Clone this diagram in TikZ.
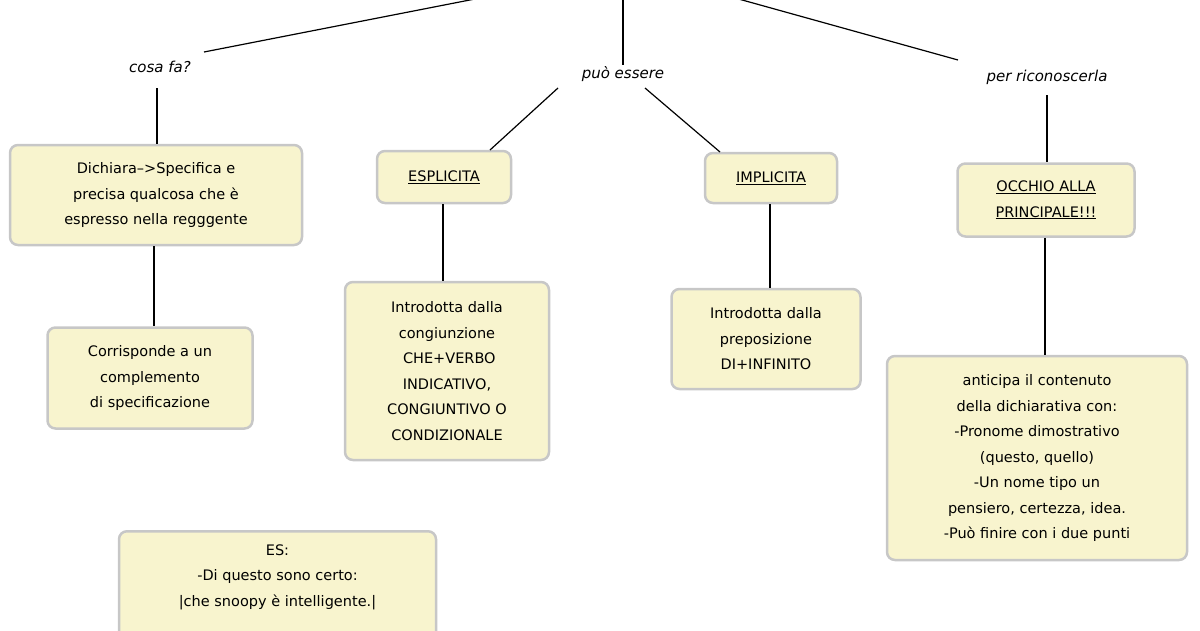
\documentclass[tikz,border=0pt]{standalone}
\usepackage{fontspec}
\setmainfont{DejaVu Sans}
\begin{document}
\begin{tikzpicture}[x=1pt,y=-1pt,
  box/.style={draw=black!22,line width=2.5pt,fill=yellowbg,rounded corners=8pt,align=center,font=\fontsize{14.5}{25.5}\selectfont,inner sep=0pt},
  lab/.style={font=\fontsize{15}{18}\selectfont\itshape,inner sep=1pt},
  con/.style={line width=1.2pt,black}]
\definecolor{yellowbg}{HTML}{F8F4CE}
\useasboundingbox (0,0) rectangle (1200,630);
\clip (0,0) rectangle (1200,630);
\node[box,minimum width=292pt,minimum height=100pt] (dich) at (156,195) {Dichiara-->Specifica e\\precisa qualcosa che è\\espresso nella regggente};
\node[box,minimum width=205pt,minimum height=101pt] (corr) at (150,378) {Corrisponde a un\\complemento\\di specificazione};
\node[box,minimum width=134pt,minimum height=52pt] (espl) at (444,177) {\underline{ESPLICITA}};
\node[box,minimum width=204pt,minimum height=178pt] (che) at (447,371) {Introdotta dalla\\congiunzione\\\ CHE+VERBO\\INDICATIVO,\\CONGIUNTIVO O\\CONDIZIONALE};
\node[box,minimum width=132pt,minimum height=50pt] (impl) at (771,178) {\underline{IMPLICITA}};
\node[box,minimum width=189pt,minimum height=100pt] (di) at (766,339) {Introdotta dalla\\preposizione\\DI+INFINITO};
\node[box,minimum width=177pt,minimum height=73pt] (occ) at (1046,200) {\underline{OCCHIO ALLA}\\\underline{PRINCIPALE!!!}};
\node[box,minimum width=300pt,minimum height=204pt] (ant) at (1037,458) {anticipa il contenuto\\della dichiarativa con:\\-Pronome dimostrativo\\(questo, quello)\\-Un nome tipo un\\pensiero, certezza, idea.\\-Può finire con i due punti};
\node[box,minimum width=317pt,minimum height=140pt,anchor=north] (es) at (277.5,530) {};
\node[font=\fontsize{14.5}{25.5}\selectfont,align=center,anchor=north] (estxt) at (277.5,541) {ES:\\-Di questo sono certo:\\|che snoopy è intelligente.|};
\node[lab] (cosa) at (160,67) {cosa fa?};
\node[lab] (puo) at (623,74) {può essere};
\node[lab] (per) at (1047,77) {per riconoscerla};
\coordinate (r1) at (480,-2);
\coordinate (r2) at (623,-2);
\coordinate (r3) at (735,-2);
\draw[con] (r1) -- (204,52);
\draw[con] (r2) -- (puo.north);
\draw[con] (r3) -- (958,60);
\draw[con] (157,88) -- (dich.north -| 157,0);
\draw[con] (558,88) -- (490,150);
\draw[con] (645,88) -- (720,152);
\draw[con] (1047,95) -- (occ.north -| 1047,0);
\draw[con] (dich.south -| 154,0) -- (corr.north -| 154,0);
\draw[con] (espl.south -| 443,0) -- (che.north -| 443,0);
\draw[con] (impl.south -| 770,0) -- (di.north -| 770,0);
\draw[con] (occ.south -| 1045,0) -- (ant.north -| 1045,0);
\end{tikzpicture}
\end{document}
